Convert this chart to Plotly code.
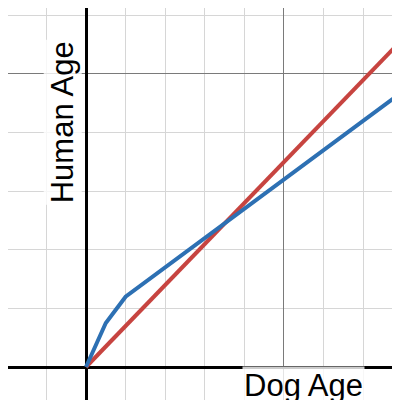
import plotly.graph_objects as go

dog_blue = [0, 0.5, 1, 7.93]
human_blue = [0, 7.5, 12, 46.65]
dog_red = [0, 7.93]
human_red = [0, 55.5]

fig = go.Figure()
fig.add_trace(go.Scatter(x=dog_red, y=human_red, mode="lines", line=dict(color="#c74440", width=4)))
fig.add_trace(go.Scatter(x=dog_blue, y=human_blue, mode="lines", line=dict(color="#2d70b3", width=4)))

ax = dict(showticklabels=False, ticks="", zeroline=True, zerolinecolor="black", zerolinewidth=3,
          showgrid=True, gridcolor="#7a7a7a", gridwidth=1, fixedrange=True)
fig.update_layout(
    width=392, height=392, margin=dict(l=0, r=0, t=0, b=0),
    plot_bgcolor="white", paper_bgcolor="white", showlegend=False,
    xaxis=dict(ax, range=[-1.97, 7.93], dtick=5, tick0=0, minor=dict(dtick=1, showgrid=True, gridcolor="#d6d6d6")),
    yaxis=dict(ax, range=[-5.63, 61.26], dtick=50, tick0=0, minor=dict(dtick=10, showgrid=True, gridcolor="#d6d6d6")),
    font=dict(family="Liberation Sans, Arial", color="black"),
    annotations=[
        dict(text="Dog Age", x=5.5, y=-3.1, xref="x", yref="y", showarrow=False, font=dict(size=31),
             bgcolor="rgba(255,255,255,0.8)"),
        dict(text="Human Age", x=-0.6, y=41.8, xref="x", yref="y", showarrow=False, textangle=-90,
             font=dict(size=31), bgcolor="rgba(255,255,255,0.8)"),
    ],
)
fig.write_html("out.html")
